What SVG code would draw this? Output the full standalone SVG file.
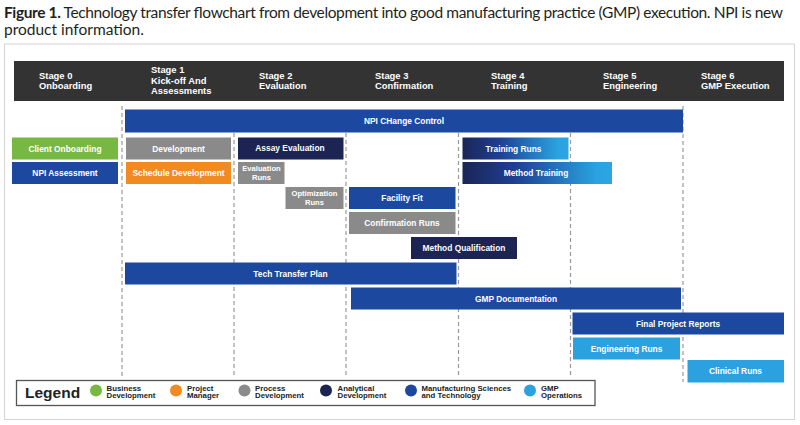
<svg xmlns="http://www.w3.org/2000/svg" width="800" height="425" viewBox="0 0 800 425">
<style>
.cap{font-family:Lato,"Liberation Sans",sans-serif;font-size:15.5px;fill:#231f20}
.st{font-family:"Liberation Sans",Arial,sans-serif;font-weight:bold;font-size:9.4px;fill:#ffffff}
.bt{font-family:"Liberation Sans",Arial,sans-serif;font-weight:bold;font-size:8.4px;fill:#ffffff;text-anchor:middle}
.bt2{font-family:"Liberation Sans",Arial,sans-serif;font-weight:bold;font-size:7.6px;fill:#ffffff;text-anchor:middle}
.lg{font-family:"Liberation Sans",Arial,sans-serif;font-weight:bold;font-size:7.8px;fill:#222}
.dash{stroke:#9a9a9a;stroke-width:1.2;stroke-dasharray:4 3;fill:none}
.green{fill:#77b843}.orange{fill:#f18a21}.gray{fill:#8a8a8b}.navy{fill:#1b2452}.blue{fill:#1c48a0}.lblue{fill:#2ba2df}.grad{fill:url(#tg)}
</style>
<defs>
<linearGradient id="tg" x1="0" y1="0" x2="1" y2="0">
<stop offset="0" stop-color="#1b2557"/>
<stop offset="0.35" stop-color="#1e3f92"/>
<stop offset="0.9" stop-color="#2aa3e0"/>
<stop offset="1" stop-color="#2ba6e2"/>
</linearGradient>
<linearGradient id="topl" x1="0" y1="0" x2="1" y2="0">
<stop offset="0" stop-color="#cfcfcf"/>
<stop offset="0.08" stop-color="#333"/>
<stop offset="0.7" stop-color="#555"/>
<stop offset="0.95" stop-color="#ddd"/>
<stop offset="1" stop-color="#e6e6e6"/>
</linearGradient>
</defs>
<rect width="800" height="425" fill="#ffffff"/>
<g id="caption">
<text class="cap" x="4" y="18" textLength="779" lengthAdjust="spacing"><tspan font-weight="bold">Figure 1.</tspan> Technology transfer flowchart from development into good manufacturing practice (GMP) execution. NPI is new</text>
<text class="cap" x="4" y="35">product information.</text>
</g>
<g id="frame">
<rect x="4.5" y="44" width="790" height="375.5" fill="#ffffff" stroke="#d4d4d4" stroke-width="1"/>
<line x1="4" y1="44" x2="795" y2="44" stroke="url(#topl)" stroke-width="1.3"/>
</g>
<g id="header">
<rect x="14" y="61" width="770" height="40" fill="#333333"/>
<text class="st" x="39" y="78.5">Stage 0<tspan x="39" dy="10.5">Onboarding</tspan></text>
<text class="st" x="151" y="73">Stage 1<tspan x="151" dy="10.5">Kick-off And</tspan><tspan x="151" dy="10.5">Assessments</tspan></text>
<text class="st" x="259" y="78.5">Stage 2<tspan x="259" dy="10.5">Evaluation</tspan></text>
<text class="st" x="375" y="78.5">Stage 3<tspan x="375" dy="10.5">Confirmation</tspan></text>
<text class="st" x="491" y="78.5">Stage 4<tspan x="491" dy="10.5">Training</tspan></text>
<text class="st" x="603" y="78.5">Stage 5<tspan x="603" dy="10.5">Engineering</tspan></text>
<text class="st" x="701" y="78.5">Stage 6<tspan x="701" dy="10.5">GMP Execution</tspan></text>
</g>
<g id="connectors">
<line class="dash" x1="122" y1="106" x2="122" y2="378"/>
<line class="dash" x1="234" y1="133" x2="234" y2="378"/>
<line class="dash" x1="346" y1="133" x2="346" y2="378"/>
<line class="dash" x1="458.5" y1="133" x2="458.5" y2="378"/>
<line class="dash" x1="570.5" y1="133" x2="570.5" y2="378"/>
<line class="dash" x1="683" y1="106" x2="683" y2="382"/>
</g>
<g id="npi-change-control"><rect class="blue" x="125" y="109.5" width="558" height="23"/><text class="bt" x="404" y="124">NPI CHange Control</text></g>
<g id="client-onboarding"><rect class="green" x="12" y="137.5" width="106" height="22"/><text class="bt" x="65" y="151.5">Client Onboarding</text></g>
<g id="npi-assessment"><rect class="blue" x="12" y="162" width="106" height="22"/><text class="bt" x="65" y="176">NPI Assessment</text></g>
<g id="development"><rect class="gray" x="126" y="137.5" width="105" height="22"/><text class="bt" x="178.5" y="151.5">Development</text></g>
<g id="schedule-development"><rect class="orange" x="126" y="162" width="105" height="22"/><text class="bt" x="178.5" y="176">Schedule Development</text></g>
<g id="assay-evaluation"><rect class="navy" x="238" y="137.5" width="105.5" height="22"/><text class="bt" x="290" y="151">Assay Evaluation</text></g>
<g id="evaluation-runs"><rect class="gray" x="238" y="162" width="46.5" height="22"/><text class="bt2" x="261.5" y="171.3">Evaluation<tspan x="261.5" dy="8.8">Runs</tspan></text></g>
<g id="optimization-runs"><rect class="gray" x="285.5" y="187" width="58" height="22"/><text class="bt2" x="314.5" y="196.3">Optimization<tspan x="314.5" dy="8.8">Runs</tspan></text></g>
<g id="facility-fit"><rect class="blue" x="349" y="187" width="106.5" height="22"/><text class="bt" x="402" y="201">Facility Fit</text></g>
<g id="confirmation-runs"><rect class="gray" x="349" y="212" width="106.5" height="22"/><text class="bt" x="402" y="226">Confirmation Runs</text></g>
<g id="method-qualification"><rect class="navy" x="411" y="237" width="106" height="22"/><text class="bt" x="464" y="251">Method Qualification</text></g>
<g id="tech-transfer-plan"><rect class="blue" x="125" y="262.5" width="331.5" height="22"/><text class="bt" x="290.5" y="276.5">Tech Transfer Plan</text></g>
<g id="gmp-documentation"><rect class="blue" x="351" y="287.5" width="330" height="22"/><text class="bt" x="516" y="301.5">GMP Documentation</text></g>
<g id="final-project-reports"><rect class="blue" x="572.5" y="312.5" width="211.5" height="22"/><text class="bt" x="678" y="326.5">Final Project Reports</text></g>
<g id="engineering-runs"><rect class="lblue" x="573" y="337.5" width="107" height="22"/><text class="bt" x="626.5" y="351.5">Engineering Runs</text></g>
<g id="clinical-runs"><rect class="lblue" x="687.5" y="360" width="96.5" height="22.5"/><text class="bt" x="735.5" y="374">Clinical Runs</text></g>
<g id="training-runs"><rect class="grad" x="462.5" y="137.5" width="106" height="22"/><text class="bt" x="513.5" y="151.5">Training Runs</text></g>
<g id="method-training"><rect class="grad" x="462.5" y="162" width="149.5" height="22"/><text class="bt" x="536" y="176">Method Training</text></g>
<g id="legend">
<rect x="16.5" y="380.5" width="578.5" height="25" fill="#ffffff" stroke="#555555" stroke-width="1.3"/>
<text x="25" y="397.5" font-family="'Liberation Sans',Arial,sans-serif" font-weight="bold" font-size="15.5px" fill="#222">Legend</text>
<circle class="green" cx="96" cy="390.5" r="6"/>
<text class="lg" x="106.5" y="390.5">Business<tspan x="106.5" dy="7.8">Development</tspan></text>
<circle class="orange" cx="176" cy="390.5" r="6"/>
<text class="lg" x="187" y="390.5">Project<tspan x="187" dy="7.8">Manager</tspan></text>
<circle class="gray" cx="244.5" cy="390.5" r="6"/>
<text class="lg" x="255" y="390.5">Process<tspan x="255" dy="7.8">Development</tspan></text>
<circle class="navy" cx="326" cy="390.5" r="6"/>
<text class="lg" x="337.5" y="390.5">Analytical<tspan x="337.5" dy="7.8">Development</tspan></text>
<circle class="blue" cx="411" cy="390.5" r="6"/>
<text class="lg" x="421.5" y="390.5">Manufacturing Sciences<tspan x="421.5" dy="7.8">and Technology</tspan></text>
<circle class="lblue" cx="530" cy="390.5" r="6"/>
<text class="lg" x="541" y="390.5">GMP<tspan x="541" dy="7.8">Operations</tspan></text>
</g>
</svg>
